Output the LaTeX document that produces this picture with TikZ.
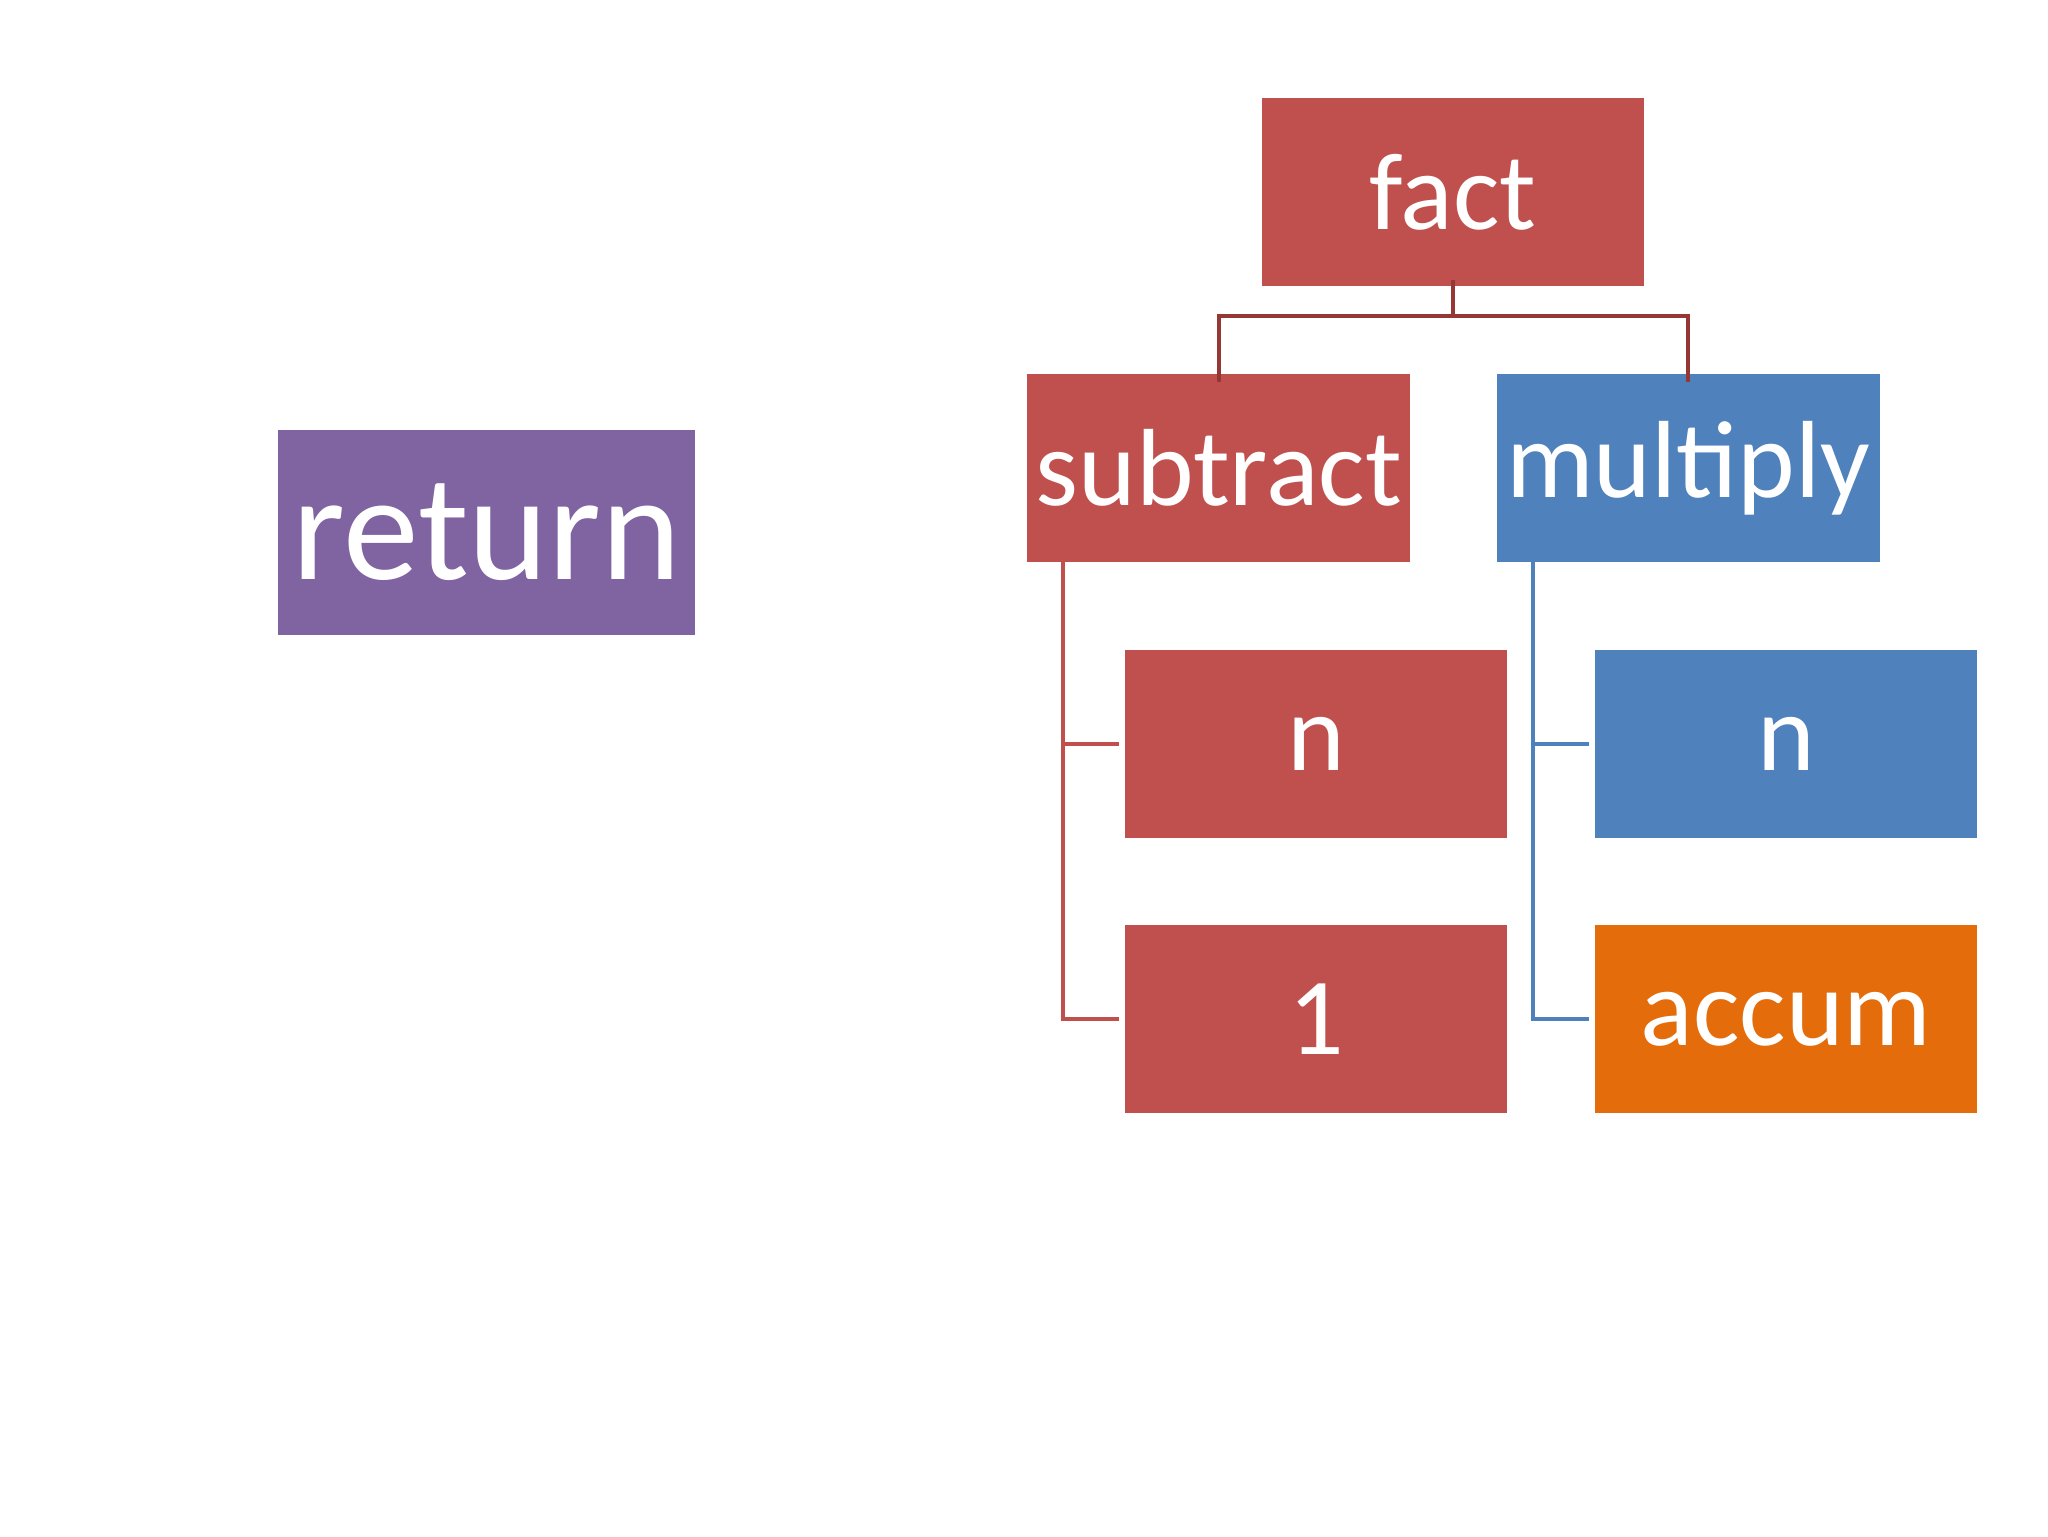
\documentclass[tikz,border=0pt]{standalone}
\usepackage{fontspec}
\setmainfont{Carlito}
\definecolor{cred}{HTML}{C0504D}
\definecolor{cblue}{HTML}{4F81BD}
\definecolor{corange}{HTML}{E46C0A}
\definecolor{cpurple}{HTML}{8064A2}
\definecolor{dred}{HTML}{953735}
\begin{document}
\begin{tikzpicture}[x=1pt,y=-1pt,
  box/.style={inner sep=0,minimum width=293pt,minimum height=144pt,text=white,font=\fontsize{84}{90}\selectfont},
  link/.style={line width=3pt}]
\useasboundingbox (0,0) rectangle (1568,1176);
\node[box,fill=cred] (fact) at (1112.5,147) {fact};
\node[box,fill=cred] (sub) at (933,358.5) {subtract};
\node[box,fill=cblue] (mul) at (1292.5,358.5) {multiply};
\node[box,fill=cred] (n1) at (1007.5,569.5) {n};
\node[box,fill=cred] (one) at (1007.5,780.5) {1};
\node[box,fill=cblue] (n2) at (1367.5,569.5) {n};
\node[box,fill=corange] (acc) at (1367.5,780.5) {accum};
\node[box,fill=cpurple,minimum width=319pt,minimum height=157pt,font=\fontsize{116}{120}\selectfont] (ret) at (372.5,407.5) {return};
\draw[link,dred] ([yshift=5pt]fact.south) -- ++(0,28) -| ([yshift=-6pt]sub.north);
\draw[link,dred] ([yshift=5pt]fact.south) -- ++(0,28) -| ([yshift=-6pt]mul.north);
\draw[link,cred] ([xshift=-119pt,yshift=5pt]sub.south) |- ([xshift=-4pt]one.west);
\draw[link,cred] ([xshift=-119pt,yshift=5pt]sub.south) |- ([xshift=-4pt]n1.west);
\draw[link,cblue] ([xshift=-119pt,yshift=5pt]mul.south) |- ([xshift=-4pt]acc.west);
\draw[link,cblue] ([xshift=-119pt,yshift=5pt]mul.south) |- ([xshift=-4pt]n2.west);
\end{tikzpicture}
\end{document}
